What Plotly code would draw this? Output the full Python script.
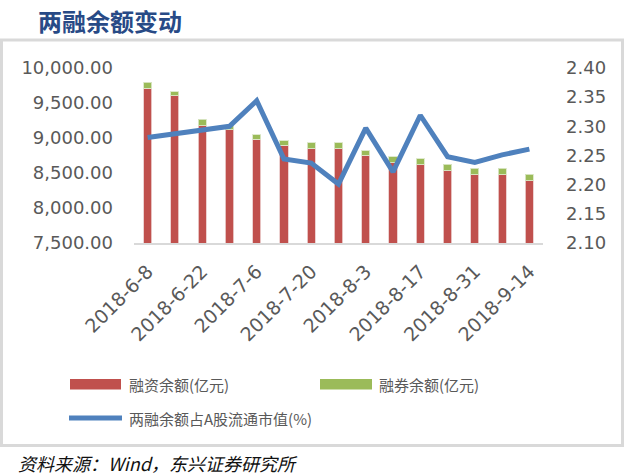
import plotly.graph_objects as go

# ---------------- data ----------------
dates = ["2018-6-8", "2018-6-15", "2018-6-22", "2018-6-29", "2018-7-6", "2018-7-13",
         "2018-7-20", "2018-7-27", "2018-8-3", "2018-8-10", "2018-8-17", "2018-8-24",
         "2018-8-31", "2018-9-7", "2018-9-14"]
margin_financing = [9711, 9605, 9172, 9115, 8982, 8900, 8843, 8843, 8757, 8647,
                    8615, 8533, 8476, 8476, 8390]          # 融资余额(亿元)
short_selling = [89, 53, 96, 57, 61, 62, 86, 86, 62, 86, 90, 91, 91, 91, 91]  # 融券余额(亿元)
ratio_pct = [2.281, 2.288, 2.295, 2.300, 2.344, 2.244, 2.237, 2.201, 2.297, 2.222,
             2.319, 2.248, 2.238, 2.251, 2.261]            # 两融余额占A股流通市值(%)
shown_ticks = dates[::2]

name_fin = "融资余额(亿元)"
name_short = "融券余额(亿元)"
name_ratio = "两融余额占A股流通市值(%)"

RED = "#C0504D"
GREEN = "#9BBB59"
BLUE = "#4F81BD"
GRAY = "#595959"
CJK = "Noto Sans CJK SC"

W, H = 626, 476
L, R, T, B = 134, 543, 68, 243  # plot-area pixel box


def px(x):
    return (x - L) / (R - L)


def py(y):
    return (B - y) / (B - T)


fig = go.Figure()
fig.add_trace(go.Bar(x=dates, y=margin_financing, name=name_fin,
                     marker=dict(color=RED, line=dict(color="rgba(235,205,205,0.9)", width=1)),
                     showlegend=False))
fig.add_trace(go.Bar(x=dates, y=short_selling, name=name_short,
                     marker=dict(color=GREEN, line=dict(color="rgba(220,232,200,0.9)", width=1)),
                     showlegend=False))
fig.add_trace(go.Scatter(x=dates, y=ratio_pct, name=name_ratio, yaxis="y2",
                         mode="lines", line=dict(color=BLUE, width=5),
                         showlegend=False))

shapes = [
    # outer frame
    dict(type="rect", xref="paper", yref="paper", x0=px(1.5), x1=px(622.5),
         y0=py(40), y1=py(445.5), line=dict(color="#D9D9D9", width=3), layer="below"),
    # legend swatches
    dict(type="rect", xref="paper", yref="paper", x0=px(70), x1=px(121),
         y0=py(379), y1=py(389.5), fillcolor=RED, line=dict(width=0)),
    dict(type="rect", xref="paper", yref="paper", x0=px(320), x1=px(372),
         y0=py(379), y1=py(389.5), fillcolor=GREEN, line=dict(width=0)),
    dict(type="line", xref="paper", yref="paper", x0=px(69), x1=px(122),
         y0=py(418), y1=py(418), line=dict(color=BLUE, width=5)),
]

annotations = [
    dict(text="<b>两融余额变动</b>", x=px(36), y=py(20), xref="paper", yref="paper",
         xanchor="left", yanchor="middle", showarrow=False,
         font=dict(family=CJK, size=24, color="#284A86")),
    dict(text=name_fin, x=px(127), y=py(384), xref="paper", yref="paper",
         xanchor="left", yanchor="middle", showarrow=False,
         font=dict(family=CJK, size=15, color=GRAY)),
    dict(text=name_short, x=px(377), y=py(384), xref="paper", yref="paper",
         xanchor="left", yanchor="middle", showarrow=False,
         font=dict(family=CJK, size=15, color=GRAY)),
    dict(text=name_ratio, x=px(127), y=py(418), xref="paper", yref="paper",
         xanchor="left", yanchor="middle", showarrow=False,
         font=dict(family=CJK, size=15, color=GRAY)),
    dict(text="<i>资料来源：Wind，东兴证券研究所</i>", x=px(16), y=py(463), xref="paper", yref="paper",
         xanchor="left", yanchor="middle", showarrow=False,
         font=dict(family=CJK, size=18, color="#111111")),
]

fig.update_layout(
    width=W, height=H,
    margin=dict(l=L, r=W - R, t=T, b=H - B, pad=0),
    paper_bgcolor="white", plot_bgcolor="white",
    barmode="stack", bargap=0.7,
    showlegend=False,
    shapes=shapes, annotations=annotations,
    xaxis=dict(type="category", range=[-0.5, len(dates) - 0.5],
               tickmode="array", tickvals=shown_ticks, ticktext=shown_ticks,
               tickangle=-45, ticks="", showgrid=False,
               showline=True, linecolor="#D9D9D9", linewidth=2,
               tickfont=dict(family="DejaVu Sans", size=19, color=GRAY),
               ticklabelstandoff=8),
    yaxis=dict(range=[7500, 10000], dtick=500, tick0=7500, tickformat=",.2f",
               showgrid=False, zeroline=False, showline=False, ticks="",
               tickfont=dict(family="DejaVu Sans", size=18, color=GRAY),
               ticklabelstandoff=20),
    yaxis2=dict(range=[2.10, 2.40], dtick=0.05, tick0=2.10, tickformat=".2f",
                overlaying="y", side="right",
                showgrid=False, zeroline=False, showline=False, ticks="",
                tickfont=dict(family="DejaVu Sans", size=18, color=GRAY),
                ticklabelstandoff=22),
)

fig.write_html("out.html", config={"displayModeBar": False},
               post_script="document.body.style.margin='0';document.body.style.overflow='hidden';")
